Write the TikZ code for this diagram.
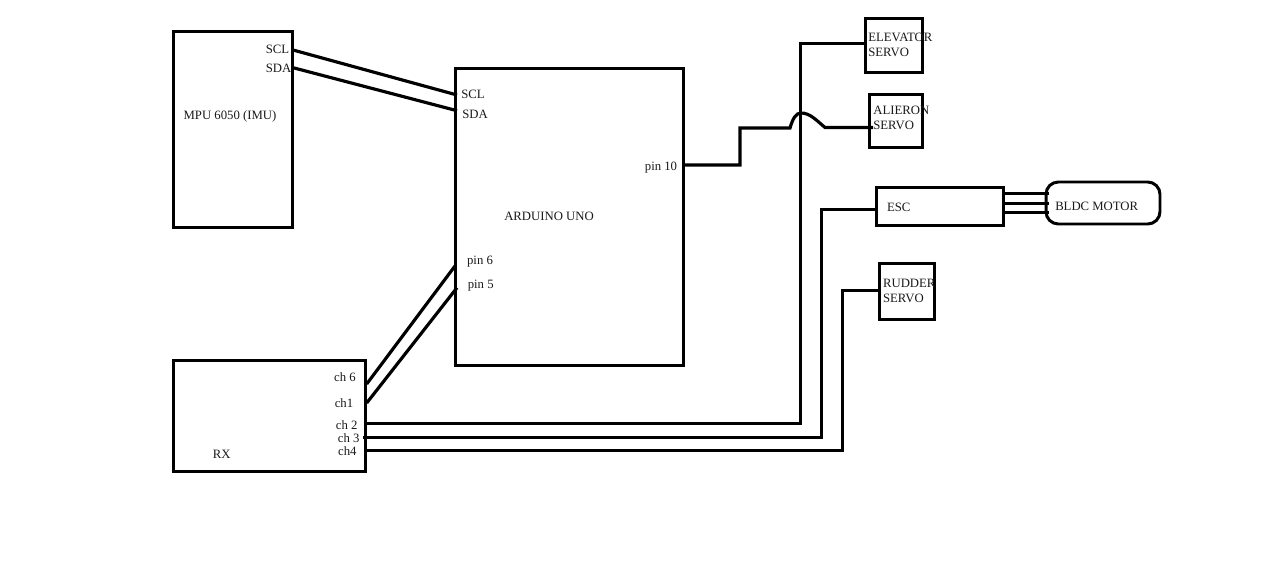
\documentclass[tikz,border=0pt]{standalone}
\usepackage{fontspec}
\setmainfont{Liberation Serif}
\tikzset{
  box/.style={draw=black,line width=1.7pt,inner sep=0pt,outer sep=0pt},
  wire/.style={draw=black,line width=1.8pt},
  lbl/.style={inner sep=0pt,font=\fontsize{7.25}{8.5}\selectfont,text=black!90},
  lbltwo/.style={lbl,anchor=west,align=left},
}
\begin{document}
\begin{tikzpicture}[x=0.02cm,y=-0.02cm]
\useasboundingbox (0,0) rectangle (1267,574);

% blocks
\node[box,minimum width=2.38cm,minimum height=3.91cm] (mpu) at (233,129.3) {};
\node[box,minimum width=4.56cm,minimum height=5.93cm] (uno) at (569.2,216.8) {};
\node[box,minimum width=3.85cm,minimum height=2.24cm] (rx) at (269.3,416) {};
\node[box,minimum width=1.14cm,minimum height=1.09cm] (elev) at (894.2,45.5) {};
\node[box,minimum width=1.06cm,minimum height=1.07cm] (ail) at (896.2,121.2) {};
\node[box,minimum width=2.55cm,minimum height=0.76cm] (esc) at (939.8,206.7) {};
\node[box,minimum width=2.28cm,minimum height=0.84cm,rounded corners=7pt] (motor) at (1103,203) {};
\node[box,minimum width=1.11cm,minimum height=1.13cm] (rudder) at (907.2,291.5) {};

% wire ends
\coordinate (mpuscl) at (293,50);
\coordinate (mpusda) at (293,67.7);
\coordinate (unoscl) at (457,95);
\coordinate (unosda) at (457,110.7);
\coordinate (unosix) at (455,266);
\coordinate (unofive) at (457,287.7);
\coordinate (unoten) at (684,165);
\coordinate (rxsix) at (366.7,384);
\coordinate (rxone) at (366.7,403);
\coordinate (rxtwo) at (366,423.6);
\coordinate (rxthree) at (363,437.3);
\coordinate (rxfour) at (366,450.3);
\coordinate (elevturn) at (800.6,43.4);
\coordinate (elevin) at (867,43.4);
\coordinate (escturn) at (821.5,209.3);
\coordinate (escin) at (878,209.3);
\coordinate (rudturn) at (842.3,290.4);
\coordinate (rudin) at (881,290.4);
\coordinate (stepup) at (740,128);
\coordinate (hopa) at (790,128);
\coordinate (hoptop) at (801,113);
\coordinate (hopb) at (825,127.5);
\coordinate (ailin) at (873,127.5);
\coordinate (escm1) at (1003.7,193.7);
\coordinate (escm2) at (1003.7,203.3);
\coordinate (escm3) at (1003.7,212.3);
\coordinate (motm1) at (1049,193.7);
\coordinate (motm2) at (1049,203.3);
\coordinate (motm3) at (1049,212.3);

% wires
\draw[wire] (mpuscl) -- (unoscl);
\draw[wire] (mpusda) -- (unosda);
\draw[wire] (rxsix) -- (unosix);
\draw[wire] (rxone) -- (unofive);
\draw[wire] (rxtwo) -| (elevturn) -- (elevin);
\draw[wire] (rxthree) -| (escturn) -- (escin);
\draw[wire] (rxfour) -| (rudturn) -- (rudin);
\draw[wire] (unoten) -| (stepup) -- (hopa) .. controls (793,118) and (796,113) .. (hoptop) .. controls (810,113) and (816,120) .. (hopb) -- (ailin);
\draw[wire] (escm1) -- (motm1);
\draw[wire] (escm2) -- (motm2);
\draw[wire] (escm3) -- (motm3);

% labels
\node[lbl] (tmpu) at (230,116) {MPU 6050 (IMU)};
\node[lbl] (tmpuscl) at (277.5,49) {SCL};
\node[lbl] (tmpusda) at (278.5,68.7) {SDA};
\node[lbl] (tunoscl) at (473,94) {SCL};
\node[lbl] (tunosda) at (475,114) {SDA};
\node[lbl] (tuno) at (549,216) {ARDUINO UNO};
\node[lbl] (tpinten) at (661,168) {pin 10};
\node[lbl] (tpinsix) at (480,262) {pin 6};
\node[lbl] (tpinfive) at (480.7,286) {pin 5};
\node[lbl] (tchsix) at (345,377) {ch 6};
\node[lbl] (tchone) at (344,403) {ch1};
\node[lbl] (tchtwo) at (346.7,424.7) {ch 2};
\node[lbl] (tchthree) at (348.7,438) {ch 3};
\node[lbl] (tchfour) at (347.3,451) {ch4};
\node[lbl] (trx) at (221.7,454) {RX};
\node[lbltwo] (telev) at (868,44.8) {ELEVATOR\\SERVO};
\node[lbltwo] (tail) at (873,117.6) {ALIERON\\SERVO};
\node[lbltwo] (trudder) at (882.7,290.6) {RUDDER\\SERVO};
\node[lbl] (tesc) at (898.7,207.5) {ESC};
\node[lbl] (tmotor) at (1096.7,206) {BLDC MOTOR};

\end{tikzpicture}
\end{document}
